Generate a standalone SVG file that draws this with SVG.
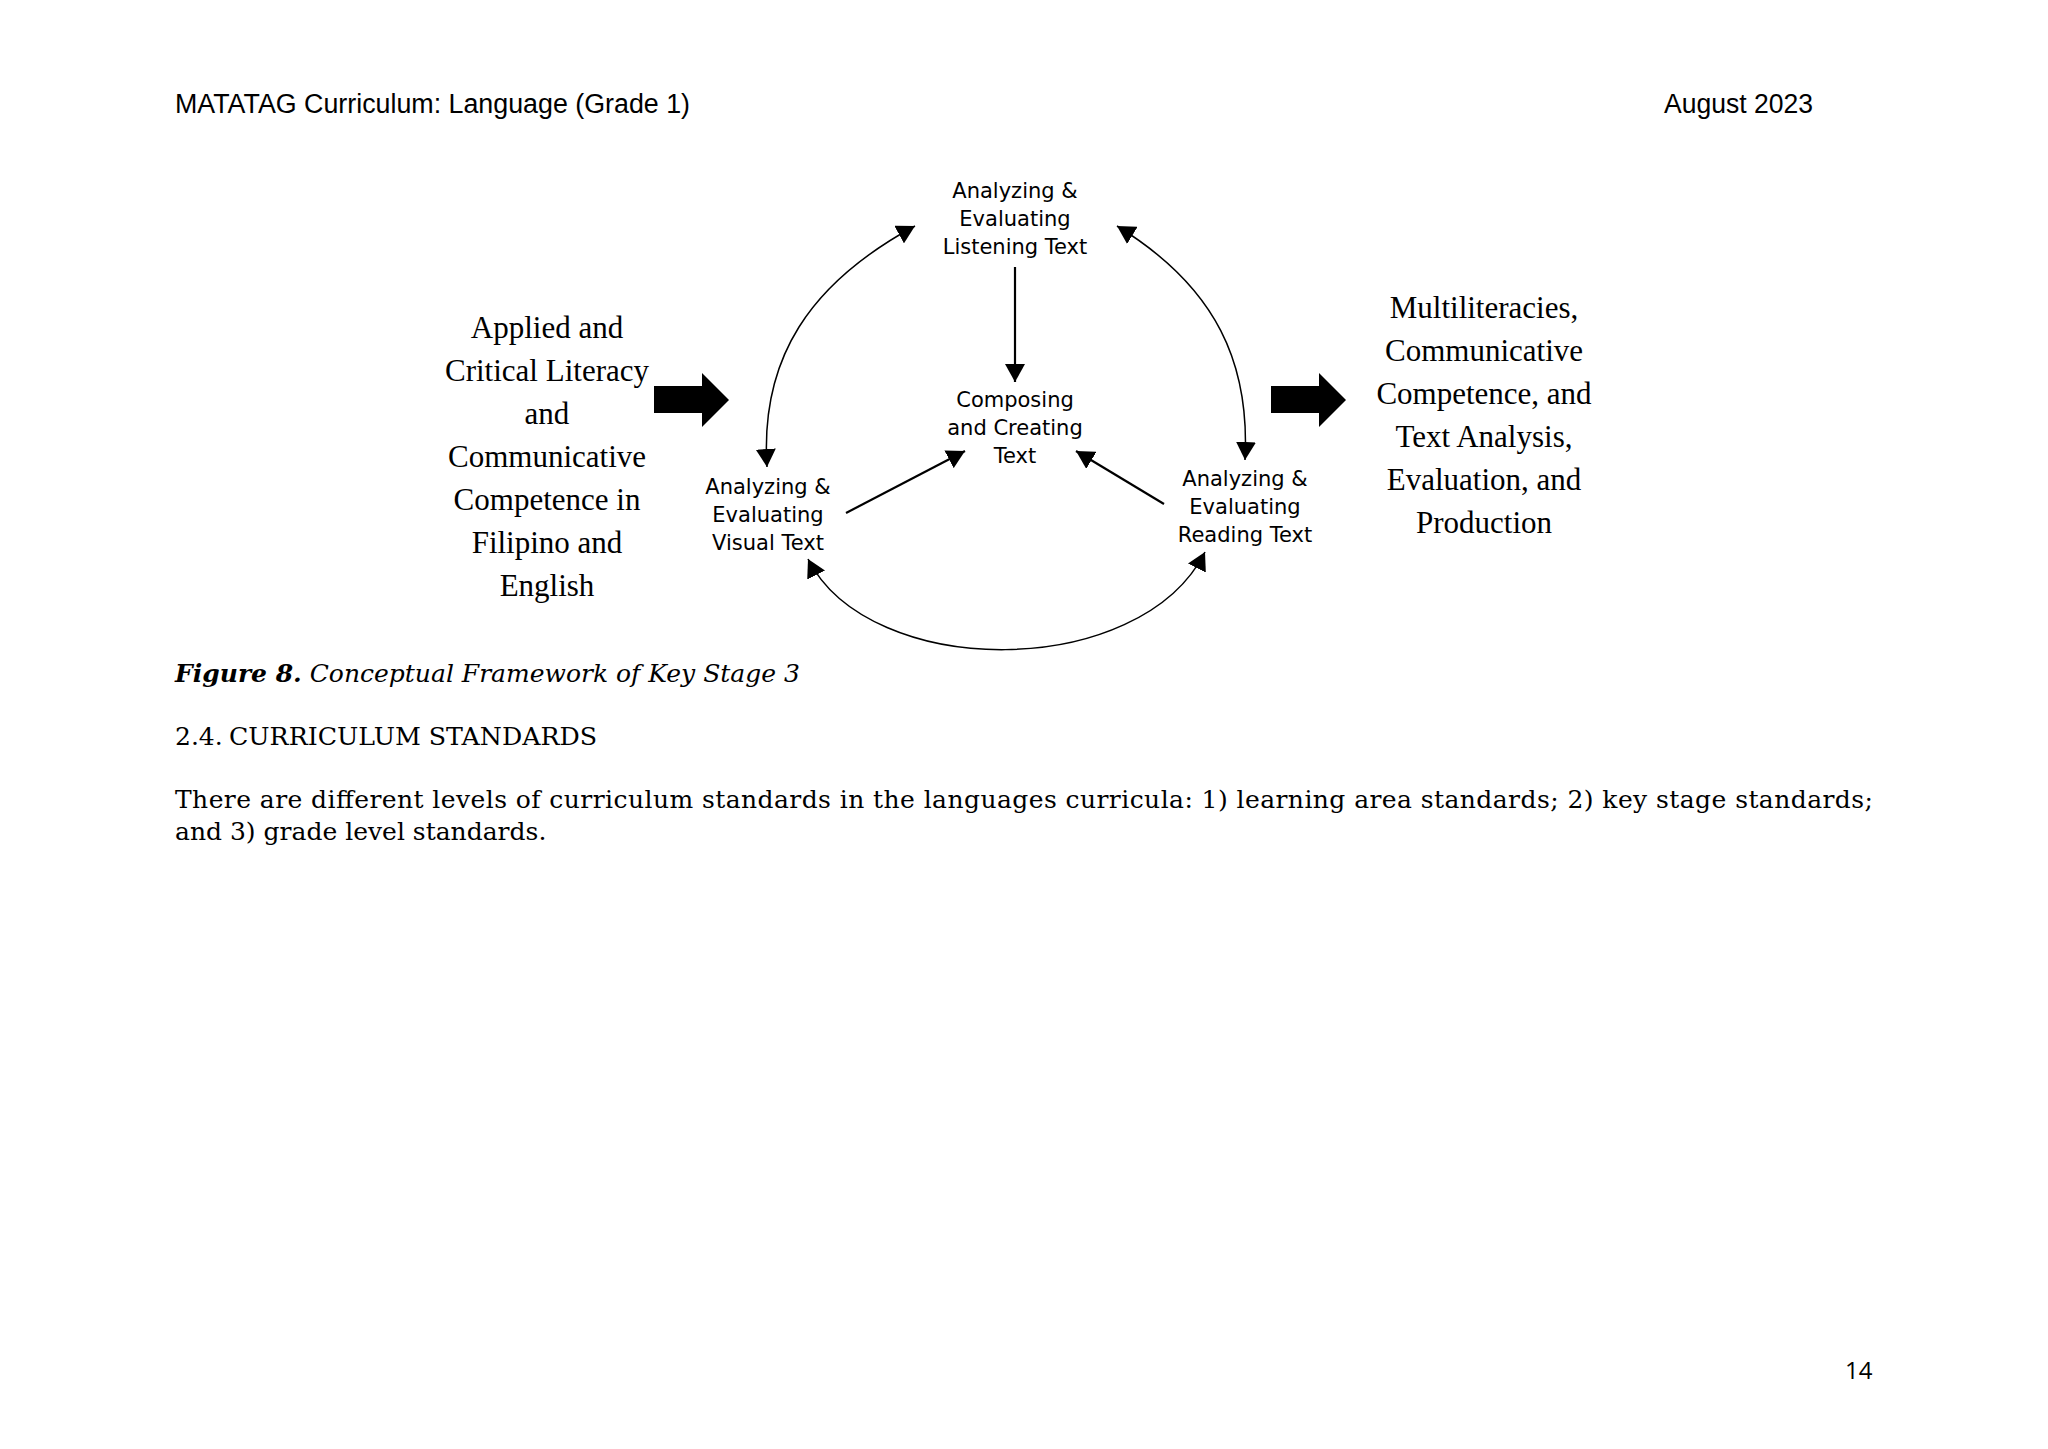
<svg xmlns="http://www.w3.org/2000/svg" width="2048" height="1449" viewBox="0 0 2048 1449">
<style>
.hdr{font-family:"Liberation Sans",Arial,sans-serif;font-size:27px;fill:#000}
.ser{font-family:"Liberation Serif","Times New Roman",serif;font-size:31px;fill:#000;text-anchor:middle}
.nd{font-family:"DejaVu Sans",sans-serif;font-size:21px;fill:#000;text-anchor:middle}
.bk{font-family:"DejaVu Serif",serif;font-size:25px;fill:#000}
.ln{fill:none;stroke:#000;stroke-width:2.2}
.arc{fill:none;stroke:#000;stroke-width:1.5}
.blk{fill:#000}
</style>
<defs>
<marker id="ah" markerUnits="userSpaceOnUse" markerWidth="20" markerHeight="20" refX="18" refY="10" orient="auto-start-reverse" viewBox="0 0 20 20">
<path d="M0,0 L18,10 L0,20 z" fill="#000"/>
</marker>
</defs>
<rect width="2048" height="1449" fill="#fff"/>
<text class="hdr" x="175" y="113" textLength="515" lengthAdjust="spacingAndGlyphs">MATATAG Curriculum: Language (Grade 1)</text>
<text class="hdr" x="1664" y="113" textLength="149" lengthAdjust="spacingAndGlyphs">August 2023</text>

<g id="input">
<text class="ser"><tspan x="547" y="338">Applied and</tspan><tspan x="547" y="381">Critical Literacy</tspan><tspan x="547" y="424">and</tspan><tspan x="547" y="467">Communicative</tspan><tspan x="547" y="510">Competence in</tspan><tspan x="547" y="553">Filipino and</tspan><tspan x="547" y="596">English</tspan></text>
</g>
<g id="output">
<text class="ser"><tspan x="1484" y="318">Multiliteracies,</tspan><tspan x="1484" y="361">Communicative</tspan><tspan x="1484" y="404">Competence, and</tspan><tspan x="1484" y="447">Text Analysis,</tspan><tspan x="1484" y="490">Evaluation, and</tspan><tspan x="1484" y="533">Production</tspan></text>
</g>
<g id="listening">
<text class="nd"><tspan x="1015" y="198">Analyzing &amp;</tspan><tspan x="1015" y="226">Evaluating</tspan><tspan x="1015" y="254">Listening Text</tspan></text>
</g>
<g id="composing">
<text class="nd"><tspan x="1015" y="407">Composing</tspan><tspan x="1015" y="435">and Creating</tspan><tspan x="1015" y="463">Text</tspan></text>
</g>
<g id="visual">
<text class="nd"><tspan x="768" y="494">Analyzing &amp;</tspan><tspan x="768" y="522">Evaluating</tspan><tspan x="768" y="550">Visual Text</tspan></text>
</g>
<g id="reading">
<text class="nd"><tspan x="1245" y="486">Analyzing &amp;</tspan><tspan x="1245" y="514">Evaluating</tspan><tspan x="1245" y="542">Reading Text</tspan></text>
</g>

<g id="connectors">
<path class="blk" d="M654,386 H702 V373 L729,400 L702,427 V413 H654 z"/>
<path class="blk" d="M1271,386 H1319 V373 L1346,400 L1319,427 V413 H1271 z"/>
<path class="ln" d="M1015,267 V382" marker-end="url(#ah)"/>
<path class="ln" d="M846,513 L965,451" marker-end="url(#ah)"/>
<path class="ln" d="M1164,504 L1076,451" marker-end="url(#ah)"/>
<path class="arc" d="M915,226 C810,283 760,358 767,467" marker-start="url(#ah)" marker-end="url(#ah)"/>
<path class="arc" d="M1117,226 C1218,288 1250,365 1245,460" marker-start="url(#ah)" marker-end="url(#ah)"/>
<path class="arc" d="M808,559 C870,681 1140,681 1205,552" marker-start="url(#ah)" marker-end="url(#ah)"/>
</g>

<text class="bk" x="175" y="682"><tspan font-weight="bold" font-style="italic">Figure 8.</tspan><tspan font-style="italic"> Conceptual Framework of Key Stage 3</tspan></text>
<text class="bk" x="175" y="745" font-size="24">2.4.</text>
<text class="bk" x="229" y="745" font-size="24" textLength="368" lengthAdjust="spacingAndGlyphs">CURRICULUM STANDARDS</text>
<text class="bk" x="175" y="808" textLength="1698" lengthAdjust="spacing">There are different levels of curriculum standards in the languages curricula: 1) learning area standards; 2) key stage standards;</text>
<text class="bk" x="175" y="840">and 3) grade level standards.</text>
<text x="1845" y="1379" font-family="'Open Sans','Liberation Sans',sans-serif" font-size="24" fill="#000">14</text>
</svg>
